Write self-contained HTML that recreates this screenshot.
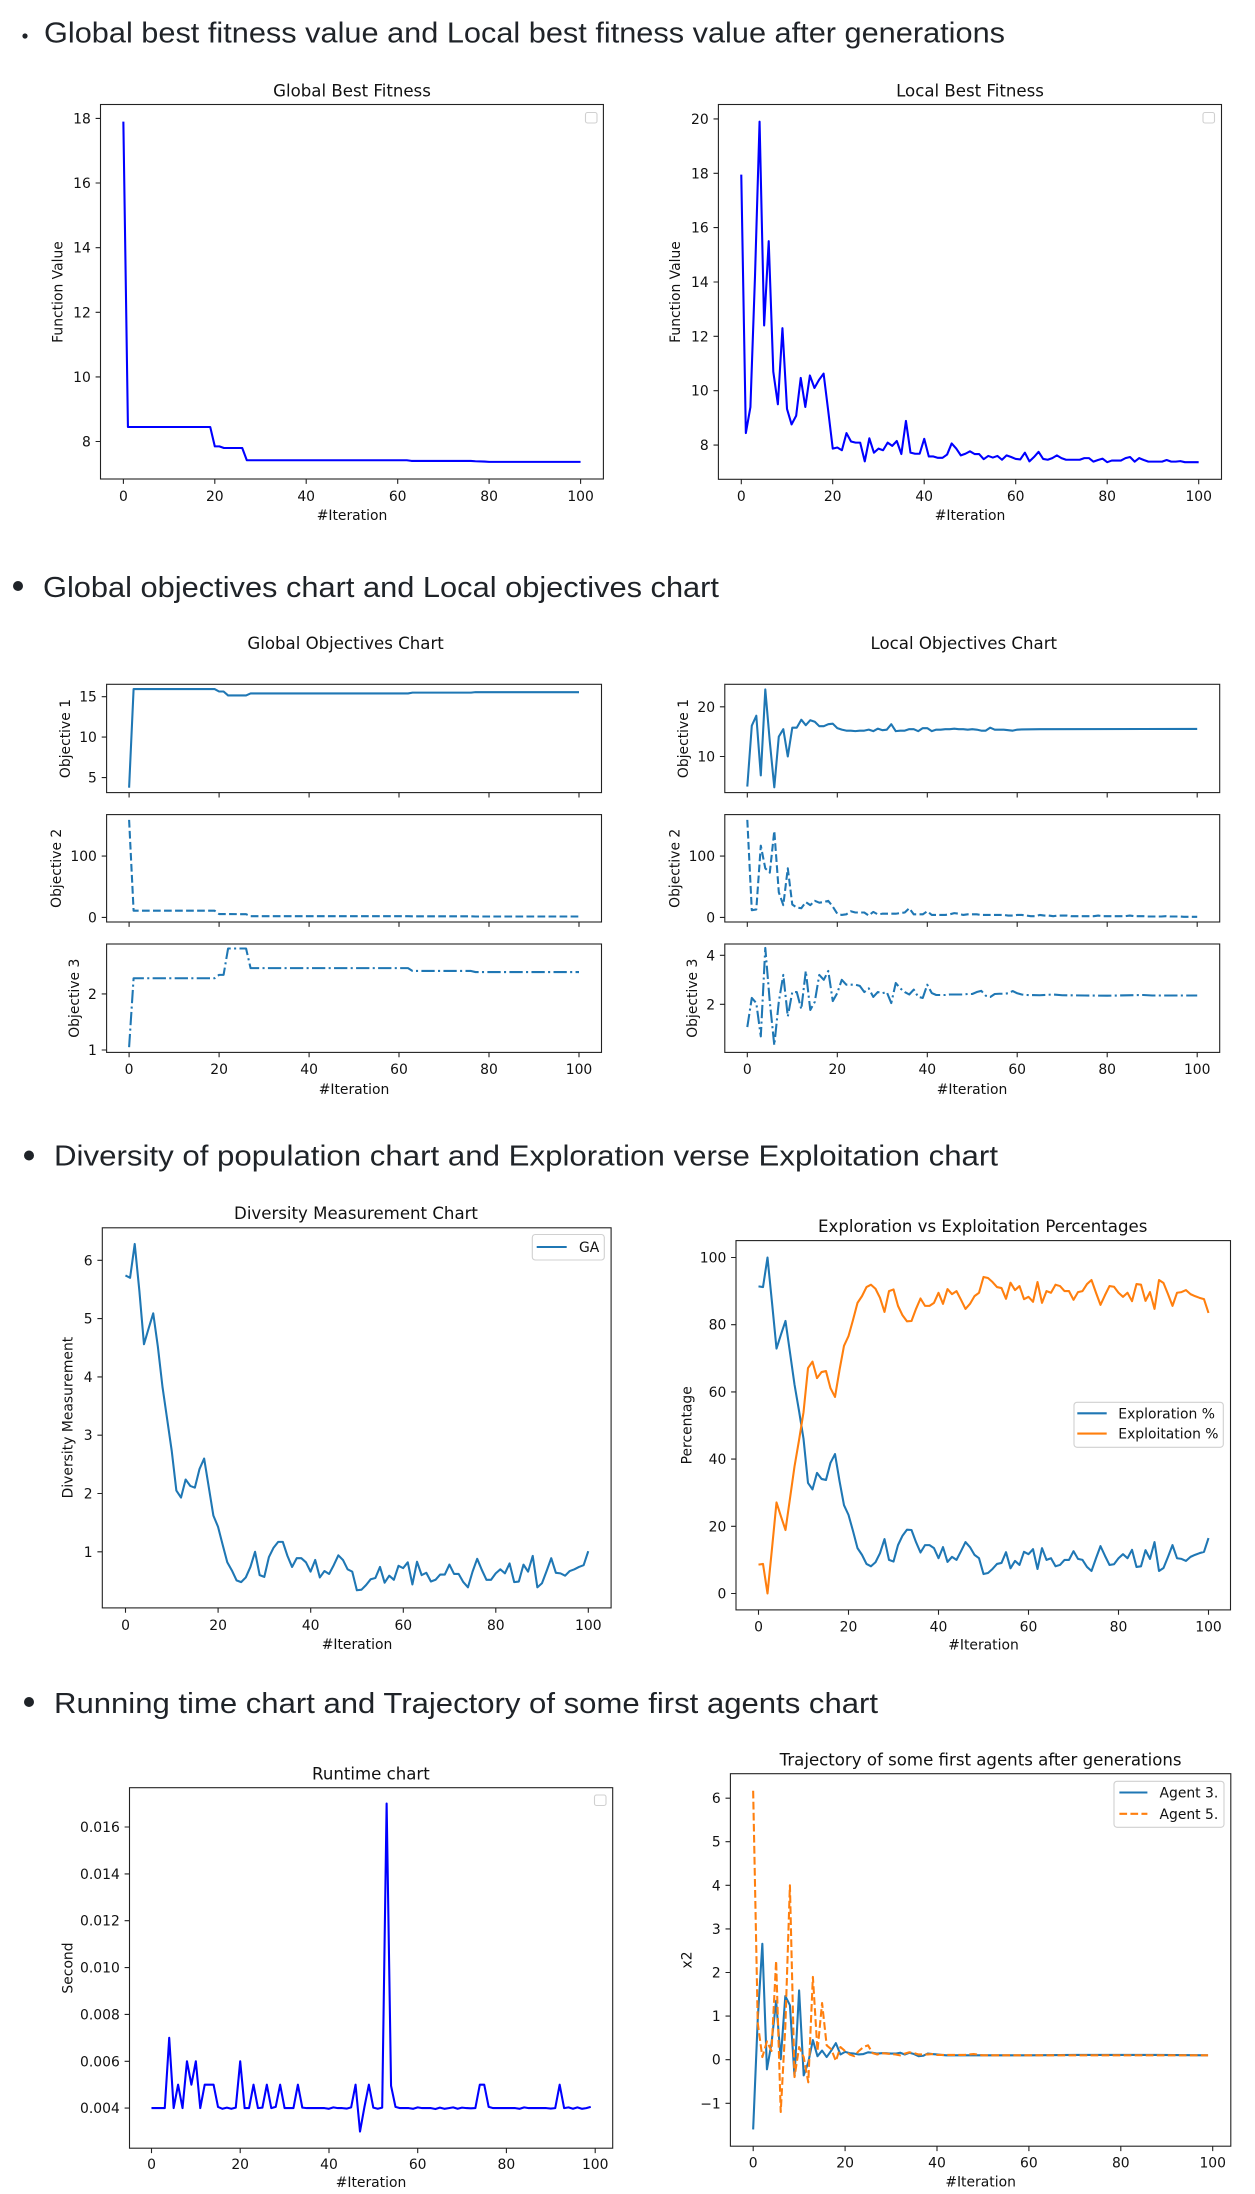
<!DOCTYPE html>
<html>
<head>
<meta charset="utf-8">
<style>
html,body{margin:0;padding:0;background:#fff;}
svg{display:block;}
.h{font-family:"Liberation Sans",sans-serif;font-size:29px;fill:#1f2328;}
.t{font-family:"DejaVu Sans",sans-serif;font-size:16.6px;fill:#111;text-anchor:middle;}
.k{font-family:"DejaVu Sans",sans-serif;font-size:13.9px;fill:#111;}
.m{text-anchor:middle;}
.e{text-anchor:end;}
.ax{fill:none;stroke:#222;stroke-width:1.1;}
.tk{fill:none;stroke:#222;stroke-width:1.1;}
.ln{fill:none;stroke-width:2.08;stroke-linejoin:round;}
.lg{fill:#fff;fill-opacity:0.8;stroke:#d0d0d0;stroke-width:1.1;}
</style>
</head>
<body>
<svg width="1255" height="2194" viewBox="0 0 1255 2194" xmlns="http://www.w3.org/2000/svg">
<rect x="0" y="0" width="1255" height="2194" fill="#fff"/>

<!-- ============ Headings ============ -->
<circle cx="25" cy="36" r="2.6" fill="#1f2328"/>
<text class="h" x="44" y="42.5" textLength="961" lengthAdjust="spacingAndGlyphs">Global best fitness value and Local best fitness value after generations</text>

<circle cx="18" cy="586" r="5" fill="#1f2328"/>
<text class="h" x="43" y="597" textLength="676" lengthAdjust="spacingAndGlyphs">Global objectives chart and Local objectives chart</text>

<circle cx="29" cy="1155.5" r="5" fill="#1f2328"/>
<text class="h" x="54" y="1165.5" textLength="944" lengthAdjust="spacingAndGlyphs">Diversity of population chart and Exploration verse Exploitation chart</text>

<circle cx="29" cy="1702" r="5" fill="#1f2328"/>
<text class="h" x="54" y="1713" textLength="824" lengthAdjust="spacingAndGlyphs">Running time chart and Trajectory of some first agents chart</text>

<!-- ============ Chart 1: Global Best Fitness ============ -->
<polyline class="ln" stroke="#0000ff" vector-effect="non-scaling-stroke" transform="matrix(4.572 0 0 -32.31 123.36 700)"
 points="0,17.9 1,8.45 19,8.45 20,7.85 21,7.85 22,7.8 26,7.8 27,7.42 62,7.42 63,7.40 76,7.40 77,7.39 79,7.38 80,7.37 100,7.37"/>
<rect class="ax" x="100.5" y="104.5" width="502.9" height="374.5"/>
<path class="tk" d="M123.4,479v4.9M214.8,479v4.9M306.2,479v4.9M397.7,479v4.9M489.1,479v4.9M580.6,479v4.9
M100.5,441.5h-4.9M100.5,376.9h-4.9M100.5,312.3h-4.9M100.5,247.7h-4.9M100.5,183h-4.9M100.5,118.4h-4.9"/>
<g class="k m">
<text x="123.4" y="501">0</text><text x="214.8" y="501">20</text><text x="306.2" y="501">40</text><text x="397.7" y="501">60</text><text x="489.1" y="501">80</text><text x="580.6" y="501">100</text>
</g>
<g class="k e">
<text x="90.8" y="446.5">8</text><text x="90.8" y="381.9">10</text><text x="90.8" y="317.3">12</text><text x="90.8" y="252.7">14</text><text x="90.8" y="188">16</text><text x="90.8" y="123.4">18</text>
</g>
<text class="t" x="352" y="96.5">Global Best Fitness</text>
<text class="k m" x="352" y="520">#Iteration</text>
<text class="k m" transform="translate(62.4,292) rotate(-90)">Function Value</text>
<rect class="lg" x="585.5" y="112.5" width="11.5" height="10.5" rx="2"/>

<!-- ============ Chart 2: Local Best Fitness ============ -->
<polyline class="ln" stroke="#0000ff" vector-effect="non-scaling-stroke" transform="matrix(4.574 0 0 -27.18 741.27 662.5)"
 points="0,17.95 1,8.44 2,9.4 3,14.2 4,19.9 5,12.4 6,15.5 7,10.7 8,9.5 9,12.3 10,9.33 11,8.76 12,9.08 13,10.47 14,9.4 15,10.56 16,10.1 17,10.4 18,10.63 19,9.27 20,7.87 21,7.91 22,7.81 23,8.44 24,8.13 25,8.09 26,8.09 27,7.4 28,8.25 29,7.72 30,7.87 31,7.81 32,8.09 33,7.97 34,8.15 35,7.67 36,8.89 37,7.72 38,7.68 39,7.68 40,8.23 41,7.58 42,7.58 43,7.53 44,7.53 45,7.65 46,8.06 47,7.87 48,7.62 49,7.68 50,7.77 51,7.67 52,7.67 53,7.48 54,7.6 55,7.54 56,7.6 57,7.46 58,7.62 59,7.56 60,7.49 61,7.47 62,7.72 63,7.4 64,7.56 65,7.75 66,7.49 67,7.46 68,7.52 69,7.62 70,7.52 71,7.46 72,7.46 73,7.46 74,7.46 75,7.52 76,7.52 77,7.39 78,7.45 79,7.5 80,7.37 81,7.43 82,7.43 83,7.43 84,7.52 85,7.56 86,7.39 87,7.52 88,7.45 89,7.39 90,7.39 91,7.39 92,7.39 93,7.45 94,7.39 95,7.39 96,7.41 97,7.37 98,7.37 99,7.37 100,7.37"/>
<rect class="ax" x="718.4" y="104.5" width="503.1" height="374.8"/>
<path class="tk" d="M741.3,479.3v4.9M832.7,479.3v4.9M924.2,479.3v4.9M1015.7,479.3v4.9M1107.2,479.3v4.9M1198.7,479.3v4.9
M718.4,445.1h-4.9M718.4,390.7h-4.9M718.4,336.3h-4.9M718.4,282h-4.9M718.4,227.6h-4.9M718.4,173.3h-4.9M718.4,118.9h-4.9"/>
<g class="k m">
<text x="741.3" y="501">0</text><text x="832.7" y="501">20</text><text x="924.2" y="501">40</text><text x="1015.7" y="501">60</text><text x="1107.2" y="501">80</text><text x="1198.7" y="501">100</text>
</g>
<g class="k e">
<text x="708.7" y="450.1">8</text><text x="708.7" y="395.7">10</text><text x="708.7" y="341.3">12</text><text x="708.7" y="287">14</text><text x="708.7" y="232.6">16</text><text x="708.7" y="178.3">18</text><text x="708.7" y="123.9">20</text>
</g>
<text class="t" x="970" y="96.5">Local Best Fitness</text>
<text class="k m" x="970" y="520">#Iteration</text>
<text class="k m" transform="translate(680.2,292) rotate(-90)">Function Value</text>
<rect class="lg" x="1203" y="112.5" width="11.5" height="10.5" rx="2"/>

<!-- ============ Chart A: Global Objectives ============ -->
<text class="t" x="345.6" y="649">Global Objectives Chart</text>
<polyline class="ln" stroke="#1f77b4" vector-effect="non-scaling-stroke" transform="matrix(4.499 0 0 -8.088 129.1 818)"
 points="0,3.75 1,15.94 19,15.94 20,15.64 21,15.64 22,15.15 26,15.15 27,15.4 62,15.4 63,15.5 76,15.5 77,15.56 100,15.56"/>
<polyline class="ln" stroke="#1f77b4" stroke-dasharray="7.7 3.33" vector-effect="non-scaling-stroke" transform="matrix(4.499 0 0 -0.6134 129.1 917.4)"
 points="0,159 1,11 19,11 20,5.5 26,5.2 27,2 62,2 63,1.8 76,1.8 77,1.5 100,1.5"/>
<polyline class="ln" stroke="#1f77b4" stroke-dasharray="13.3 3.33 2.08 3.33" vector-effect="non-scaling-stroke" transform="matrix(4.499 0 0 -56.08 129.1 1106.1)"
 points="0,1.05 1,2.28 19,2.28 20,2.34 21,2.34 22,2.81 26,2.81 27,2.46 62,2.46 63,2.41 76,2.41 77,2.39 100,2.39"/>
<rect class="ax" x="106.6" y="684.3" width="494.9" height="108.3"/>
<rect class="ax" x="106.6" y="814.6" width="494.9" height="107.4"/>
<rect class="ax" x="106.6" y="944" width="494.9" height="108.4"/>
<path class="tk" d="M129.1,792.6v4.9M219.1,792.6v4.9M309.1,792.6v4.9M399,792.6v4.9M489,792.6v4.9M579,792.6v4.9
M129.1,922v4.9M219.1,922v4.9M309.1,922v4.9M399,922v4.9M489,922v4.9M579,922v4.9
M129.1,1052.4v4.9M219.1,1052.4v4.9M309.1,1052.4v4.9M399,1052.4v4.9M489,1052.4v4.9M579,1052.4v4.9
M106.6,777.6h-4.9M106.6,737.1h-4.9M106.6,696.7h-4.9M106.6,917.4h-4.9M106.6,856.1h-4.9M106.6,1050h-4.9M106.6,993.9h-4.9"/>
<g class="k e">
<text x="96.9" y="782.6">5</text><text x="96.9" y="742.1">10</text><text x="96.9" y="701.7">15</text>
<text x="96.9" y="922.4">0</text><text x="96.9" y="861.1">100</text>
<text x="96.9" y="1055">1</text><text x="96.9" y="998.9">2</text>
</g>
<g class="k m">
<text x="129.1" y="1074">0</text><text x="219.1" y="1074">20</text><text x="309.1" y="1074">40</text><text x="399" y="1074">60</text><text x="489" y="1074">80</text><text x="579" y="1074">100</text>
</g>
<text class="k m" x="354" y="1094">#Iteration</text>
<text class="k m" transform="translate(70,738.5) rotate(-90)">Objective 1</text>
<text class="k m" transform="translate(61,868.3) rotate(-90)">Objective 2</text>
<text class="k m" transform="translate(79,998.2) rotate(-90)">Objective 3</text>

<!-- ============ Chart B: Local Objectives ============ -->
<text class="t" x="963.8" y="649">Local Objectives Chart</text>
<polyline class="ln" stroke="#1f77b4" vector-effect="non-scaling-stroke" transform="matrix(4.499 0 0 -4.97 747.3 806.2)"
 points="0,3.95 1,16.2 2,18.2 3,6.2 4,23.5 5,13 6,3.8 7,14 8,15.5 9,10 10,15.8 11,15.8 12,17.4 13,16.3 14,17.3 15,17 16,16.1 17,16.1 18,16.5 19,16.6 20,15.7 21,15.4 22,15.2 23,15.2 24,15.1 25,15.2 26,15.2 27,15.4 28,15.1 29,15.6 30,15.3 31,15.4 32,16.5 33,15.1 34,15.2 35,15.2 36,15.5 37,15.5 38,15.1 39,15.7 40,15.7 41,15.1 42,15.4 43,15.4 44,15.5 45,15.5 46,15.6 47,15.5 48,15.5 49,15.4 50,15.5 51,15.4 52,15.2 53,15.2 54,15.8 55,15.4 56,15.4 57,15.4 58,15.3 59,15.2 60,15.4 61,15.45 65,15.5 100,15.55"/>
<polyline class="ln" stroke="#1f77b4" stroke-dasharray="7.7 3.33" vector-effect="non-scaling-stroke" transform="matrix(4.499 0 0 -0.6134 747.3 917.4)"
 points="0,159 1,11.7 2,13 3,117 4,80 5,73 6,141 7,41 8,20 9,80 10,21 11,16 12,15 13,25 14,20 15,27 16,24 17,25 18,27 19,17.5 20,6 21,4 22,5 23,10 24,8 25,8 26,8 27,3 28,9 29,5 30,6 31,6 32,6 33,6 34,7 35,8 36,15 37,5 38,5 39,5 40,10 41,4 42,4 43,4 44,4 45,5 46,7 47,6 48,4 49,5 50,5 51,5 52,4 53,4 54,4 55,4 56,4 57,4 58,3 59,3 60,4 61,4 62,3 63,2 64,2 65,4 66,3 67,3 68,2 69,3 70,3 71,3 72,2 73,2 74,2 75,2 76,2 77,2 78,3 79,2 80,2 81,2 82,2 83,2 84,2 85,3 86,2 87,2 88,2 89,1.5 90,1.5 91,1.5 92,1.5 93,2 94,1.5 95,1.5 96,1.5 97,1 98,1 99,1 100,1"/>
<polyline class="ln" stroke="#1f77b4" stroke-dasharray="13.3 3.33 2.08 3.33" vector-effect="non-scaling-stroke" transform="matrix(4.499 0 0 -24.5 747.3 1053.3)"
 points="0,1.07 1,2.26 2,2.05 3,0.69 4,4.3 5,2.1 6,0.33 7,2.1 8,3.2 9,1.5 10,2.5 11,2.5 12,1.8 13,3.36 14,1.77 15,2.1 16,3.2 17,3.0 18,3.36 19,2.13 20,2.46 21,3.0 22,2.8 23,2.8 24,2.8 25,2.75 26,2.5 27,2.65 28,2.3 29,2.5 30,2.45 31,2.5 32,2.05 33,2.87 34,2.65 35,2.5 36,2.4 37,2.6 38,2.3 39,2.26 40,2.8 41,2.46 42,2.38 43,2.38 44,2.38 45,2.4 46,2.4 47,2.4 48,2.4 49,2.42 50,2.42 51,2.5 52,2.55 53,2.35 54,2.3 55,2.42 56,2.43 57,2.43 58,2.45 59,2.54 60,2.45 61,2.4 62,2.38 65,2.37 68,2.4 70,2.37 75,2.36 80,2.35 88,2.38 90,2.36 100,2.36"/>
<rect class="ax" x="724.8" y="684.3" width="494.9" height="108.3"/>
<rect class="ax" x="724.8" y="814.6" width="494.9" height="107.4"/>
<rect class="ax" x="724.8" y="944" width="494.9" height="108.4"/>
<path class="tk" d="M747.3,792.6v4.9M837.3,792.6v4.9M927.3,792.6v4.9M1017.2,792.6v4.9M1107.2,792.6v4.9M1197.2,792.6v4.9
M747.3,922v4.9M837.3,922v4.9M927.3,922v4.9M1017.2,922v4.9M1107.2,922v4.9M1197.2,922v4.9
M747.3,1052.4v4.9M837.3,1052.4v4.9M927.3,1052.4v4.9M1017.2,1052.4v4.9M1107.2,1052.4v4.9M1197.2,1052.4v4.9
M724.8,756.5h-4.9M724.8,706.8h-4.9M724.8,917.4h-4.9M724.8,856.1h-4.9M724.8,1004.3h-4.9M724.8,955.3h-4.9"/>
<g class="k e">
<text x="715.1" y="761.5">10</text><text x="715.1" y="711.8">20</text>
<text x="715.1" y="922.4">0</text><text x="715.1" y="861.1">100</text>
<text x="715.1" y="1009.3">2</text><text x="715.1" y="960.3">4</text>
</g>
<g class="k m">
<text x="747.3" y="1074">0</text><text x="837.3" y="1074">20</text><text x="927.3" y="1074">40</text><text x="1017.2" y="1074">60</text><text x="1107.2" y="1074">80</text><text x="1197.2" y="1074">100</text>
</g>
<text class="k m" x="972" y="1094">#Iteration</text>
<text class="k m" transform="translate(688,738.5) rotate(-90)">Objective 1</text>
<text class="k m" transform="translate(679.3,868.3) rotate(-90)">Objective 2</text>
<text class="k m" transform="translate(697,998.2) rotate(-90)">Objective 3</text>

<!-- ============ Diversity ============ -->
<text class="t" x="356" y="1219">Diversity Measurement Chart</text>
<polyline class="ln" stroke="#1f77b4" vector-effect="non-scaling-stroke" transform="matrix(4.628 0 0 -58.3 125.46 1610.1)"
 points="0,5.74 1,5.70 2,6.28 3,5.48 4,4.56 5,4.83 6,5.09 7,4.52 8,3.83 9,3.28 10,2.73 11,2.05 12,1.93 13,2.24 14,2.13 15,2.1 16,2.42 17,2.6 18,2.11 19,1.62 20,1.43 21,1.12 22,0.82 23,0.68 24,0.51 25,0.48 26,0.56 27,0.74 28,1.0 29,0.6 30,0.57 31,0.91 32,1.07 33,1.17 34,1.17 35,0.93 36,0.74 37,0.89 38,0.89 39,0.82 40,0.66 41,0.86 42,0.56 43,0.67 44,0.62 45,0.77 46,0.94 47,0.86 48,0.7 49,0.66 50,0.34 51,0.35 52,0.43 53,0.53 54,0.55 55,0.74 56,0.47 57,0.59 58,0.52 59,0.76 60,0.72 61,0.82 62,0.44 63,0.83 64,0.6 65,0.64 66,0.49 67,0.52 68,0.61 69,0.61 70,0.78 71,0.62 72,0.62 73,0.48 74,0.39 75,0.66 76,0.88 77,0.69 78,0.52 79,0.52 80,0.63 81,0.7 82,0.63 83,0.8 84,0.48 85,0.49 86,0.78 87,0.66 88,0.93 89,0.39 90,0.46 91,0.67 92,0.89 93,0.64 94,0.63 95,0.59 96,0.67 97,0.7 98,0.74 99,0.77 100,1.01"/>
<rect class="ax" x="102.3" y="1227.8" width="508.8" height="380.1"/>
<path class="tk" d="M125.5,1607.9v4.9M218.1,1607.9v4.9M310.7,1607.9v4.9M403.3,1607.9v4.9M495.8,1607.9v4.9M588.3,1607.9v4.9
M102.3,1551.8h-4.9M102.3,1493.5h-4.9M102.3,1435.2h-4.9M102.3,1376.9h-4.9M102.3,1318.6h-4.9M102.3,1260.3h-4.9"/>
<g class="k m">
<text x="125.5" y="1630">0</text><text x="218.1" y="1630">20</text><text x="310.7" y="1630">40</text><text x="403.3" y="1630">60</text><text x="495.8" y="1630">80</text><text x="588.3" y="1630">100</text>
</g>
<g class="k e">
<text x="92.6" y="1556.8">1</text><text x="92.6" y="1498.5">2</text><text x="92.6" y="1440.2">3</text><text x="92.6" y="1381.9">4</text><text x="92.6" y="1323.6">5</text><text x="92.6" y="1265.3">6</text>
</g>
<text class="k m" x="357" y="1649">#Iteration</text>
<text class="k m" transform="translate(72.4,1417.6) rotate(-90)">Diversity Measurement</text>
<rect class="lg" x="532.3" y="1234.5" width="72" height="25.5" rx="3"/>
<line x1="536.7" y1="1247" x2="566.7" y2="1247" stroke="#1f77b4" stroke-width="2.08"/>
<text class="k" x="579" y="1252">GA</text>

<!-- ============ Exploration vs Exploitation ============ -->
<text class="t" x="982.7" y="1232">Exploration vs Exploitation Percentages</text>
<polyline class="ln" stroke="#1f77b4" vector-effect="non-scaling-stroke" transform="matrix(4.5 0 0 -3.36 758.5 1593.5)"
 points="0,91.4 1,91.2 2,100 3,86.6 4,72.9 5,77.1 6,81.1 7,71.7 8,62.2 9,54.4 10,46.1 11,32.9 12,31 13,35.9 14,34.1 15,33.8 16,38.9 17,41.5 18,33.5 19,26.3 20,23.4 21,18.6 22,13.5 23,11.5 24,8.8 25,8.1 26,9.3 27,12 28,16.2 29,10 30,9.5 31,14.4 32,17.2 33,19 34,18.9 35,15.3 36,12.2 37,14.4 38,14.4 39,13.5 40,10.5 41,13.8 42,9.4 43,10.9 44,10 45,12.6 46,15.3 47,13.8 48,11.5 49,10.5 50,5.8 51,6.1 52,7.3 53,8.8 54,9.1 55,12.3 56,7.5 57,9.7 58,8.5 59,12.4 60,11.7 61,13.2 62,7.3 63,13.5 64,10 65,10.5 66,8.1 67,8.5 68,10 69,10 70,12.6 71,10.3 72,10 73,7.9 74,6.7 75,10.5 76,14.1 77,11.2 78,8.5 79,8.7 80,10.5 81,11.7 82,10.5 83,13 84,7.9 85,8.1 86,12.9 87,10.3 88,15.3 89,6.7 90,7.6 91,10.9 92,14.4 93,10.5 94,10.3 95,9.7 96,10.9 97,11.5 98,12 99,12.4 100,16.5"/>
<polyline class="ln" stroke="#ff7f0e" vector-effect="non-scaling-stroke" transform="matrix(4.5 0 0 3.36 758.5 1257.5)"
 points="0,91.4 1,91.2 2,100 3,86.6 4,72.9 5,77.1 6,81.1 7,71.7 8,62.2 9,54.4 10,46.1 11,32.9 12,31 13,35.9 14,34.1 15,33.8 16,38.9 17,41.5 18,33.5 19,26.3 20,23.4 21,18.6 22,13.5 23,11.5 24,8.8 25,8.1 26,9.3 27,12 28,16.2 29,10 30,9.5 31,14.4 32,17.2 33,19 34,18.9 35,15.3 36,12.2 37,14.4 38,14.4 39,13.5 40,10.5 41,13.8 42,9.4 43,10.9 44,10 45,12.6 46,15.3 47,13.8 48,11.5 49,10.5 50,5.8 51,6.1 52,7.3 53,8.8 54,9.1 55,12.3 56,7.5 57,9.7 58,8.5 59,12.4 60,11.7 61,13.2 62,7.3 63,13.5 64,10 65,10.5 66,8.1 67,8.5 68,10 69,10 70,12.6 71,10.3 72,10 73,7.9 74,6.7 75,10.5 76,14.1 77,11.2 78,8.5 79,8.7 80,10.5 81,11.7 82,10.5 83,13 84,7.9 85,8.1 86,12.9 87,10.3 88,15.3 89,6.7 90,7.6 91,10.9 92,14.4 93,10.5 94,10.3 95,9.7 96,10.9 97,11.5 98,12 99,12.4 100,16.5"/>
<rect class="ax" x="736" y="1240.6" width="494.5" height="369.3"/>
<path class="tk" d="M758.5,1609.9v4.9M848.5,1609.9v4.9M938.5,1609.9v4.9M1028.5,1609.9v4.9M1118.5,1609.9v4.9M1208.5,1609.9v4.9
M736,1593.5h-4.9M736,1526.3h-4.9M736,1459.1h-4.9M736,1391.9h-4.9M736,1324.7h-4.9M736,1257.5h-4.9"/>
<g class="k m">
<text x="758.5" y="1631.3">0</text><text x="848.5" y="1631.3">20</text><text x="938.5" y="1631.3">40</text><text x="1028.5" y="1631.3">60</text><text x="1118.5" y="1631.3">80</text><text x="1208.5" y="1631.3">100</text>
</g>
<g class="k e">
<text x="726.3" y="1598.5">0</text><text x="726.3" y="1531.3">20</text><text x="726.3" y="1464.1">40</text><text x="726.3" y="1396.9">60</text><text x="726.3" y="1329.7">80</text><text x="726.3" y="1262.5">100</text>
</g>
<text class="k m" x="983.5" y="1649.4">#Iteration</text>
<text class="k m" transform="translate(691.3,1425.3) rotate(-90)">Percentage</text>
<rect class="lg" x="1074" y="1402.3" width="149.3" height="45" rx="3"/>
<line x1="1077.3" y1="1413.3" x2="1106.7" y2="1413.3" stroke="#1f77b4" stroke-width="2.08"/>
<line x1="1077.3" y1="1433.6" x2="1106.7" y2="1433.6" stroke="#ff7f0e" stroke-width="2.08"/>
<text class="k" x="1118.3" y="1418.3">Exploration %</text>
<text class="k" x="1118.3" y="1438.6">Exploitation %</text>

<!-- ============ Runtime ============ -->
<text class="t" x="370.9" y="1779.7">Runtime chart</text>
<polyline class="ln" stroke="#0000ff" vector-effect="non-scaling-stroke" transform="matrix(4.437 0 0 -23.425 151.46 2201.8)"
 points="0,4 1,4 2,4 3,4 4,7 5,4 6,5 7,4 8,6 9,5 10,6 11,4 12,5 13,5 14,5 15,4.05 16,3.97 17,4.02 18,3.97 19,4.02 20,6 21,4 22,4 23,5 24,4 25,4.02 26,5 27,4 28,4.05 29,5 30,4 31,4 32,4 33,5 34,4.02 35,4 36,4 37,4 38,4 39,4 40,3.97 41,4.03 42,4 43,4 44,3.98 45,4.03 46,5 47,3 48,4.05 49,5 50,4.02 51,3.97 52,4.02 53,17 54,4.95 55,4.05 56,4 57,4 58,4 59,3.97 60,4.03 61,4 62,4 63,4 64,3.96 65,4.02 66,3.97 67,4 68,4.03 69,3.97 70,4.02 71,4 72,3.99 73,4 74,5 75,5 76,4.05 77,4 78,4 79,4 80,4 81,4 82,4 83,3.97 84,4.03 85,4 86,4 87,4 88,4 89,4 90,3.98 91,4 92,5 93,4 94,4.03 95,3.97 96,4.03 97,3.97 98,4 99,4.05"/>
<rect class="ax" x="129.5" y="1787.7" width="483.2" height="360.5"/>
<path class="tk" d="M151.5,2148.2v4.9M240.2,2148.2v4.9M329,2148.2v4.9M417.7,2148.2v4.9M506.4,2148.2v4.9M595.2,2148.2v4.9
M129.5,2108.1h-4.9M129.5,2061.3h-4.9M129.5,2014.4h-4.9M129.5,1967.6h-4.9M129.5,1920.7h-4.9M129.5,1873.9h-4.9M129.5,1827h-4.9"/>
<g class="k m">
<text x="151.5" y="2169">0</text><text x="240.2" y="2169">20</text><text x="329" y="2169">40</text><text x="417.7" y="2169">60</text><text x="506.4" y="2169">80</text><text x="595.2" y="2169">100</text>
</g>
<g class="k e">
<text x="119.8" y="2113.1">0.004</text><text x="119.8" y="2066.3">0.006</text><text x="119.8" y="2019.4">0.008</text><text x="119.8" y="1972.6">0.010</text><text x="119.8" y="1925.7">0.012</text><text x="119.8" y="1878.9">0.014</text><text x="119.8" y="1832">0.016</text>
</g>
<text class="k m" x="371" y="2187">#Iteration</text>
<text class="k m" transform="translate(72.4,1968) rotate(-90)">Second</text>
<rect class="lg" x="594.5" y="1795" width="11.5" height="10.5" rx="2"/>

<!-- ============ Trajectory ============ -->
<text class="t" x="980.6" y="1765.3">Trajectory of some first agents after generations</text>
<polyline class="ln" stroke="#1f77b4" vector-effect="non-scaling-stroke" transform="matrix(4.595 0 0 -43.59 753.15 2059.7)"
 points="0,-1.6 1,0.93 2,2.66 3,-0.22 4,0.38 5,1.35 6,0.01 7,1.46 8,1.25 9,-0.38 10,1.59 11,-0.36 12,-0.06 13,0.45 14,0.08 15,0.21 16,0.06 17,0.21 18,0.38 19,0.12 20,0.18 21,0.15 22,0.14 23,0.12 24,0.13 25,0.17 26,0.16 27,0.14 28,0.15 29,0.15 30,0.14 31,0.14 32,0.16 33,0.12 34,0.16 35,0.13 36,0.08 37,0.09 38,0.14 39,0.13 40,0.12 41,0.11 42,0.1 60,0.1 70,0.11 88,0.11 99,0.1"/>
<polyline class="ln" stroke="#ff7f0e" stroke-dasharray="7.7 3.33" vector-effect="non-scaling-stroke" transform="matrix(4.595 0 0 -43.59 753.15 2059.7)"
 points="0,6.17 1,0.84 2,0.06 3,0.42 4,0.2 5,2.27 6,-1.2 7,0.75 8,4.0 9,-0.4 10,0.29 11,0.06 12,-0.52 13,1.9 14,0.2 15,1.3 16,0.33 17,0.24 18,-0.03 19,0.29 20,0.2 21,0.12 22,0.08 23,0.2 24,0.29 25,0.33 26,0.15 27,0.12 28,0.15 29,0.14 30,0.13 31,0.12 32,0.1 33,0.14 34,0.17 35,0.15 36,0.12 37,0.12 38,0.12 39,0.13 40,0.11 46,0.11 48,0.13 50,0.1 99,0.1"/>
<rect class="ax" x="730.4" y="1773.7" width="500.4" height="372.5"/>
<path class="tk" d="M753.2,2146.2v4.9M845.1,2146.2v4.9M937,2146.2v4.9M1028.9,2146.2v4.9M1120.8,2146.2v4.9M1212.7,2146.2v4.9
M730.4,2103.3h-4.9M730.4,2059.7h-4.9M730.4,2016.1h-4.9M730.4,1972.5h-4.9M730.4,1928.9h-4.9M730.4,1885.3h-4.9M730.4,1841.7h-4.9M730.4,1798.2h-4.9"/>
<g class="k m">
<text x="753.2" y="2167.6">0</text><text x="845.1" y="2167.6">20</text><text x="937" y="2167.6">40</text><text x="1028.9" y="2167.6">60</text><text x="1120.8" y="2167.6">80</text><text x="1212.7" y="2167.6">100</text>
</g>
<g class="k e">
<text x="720.7" y="2108.3">−1</text><text x="720.7" y="2064.7">0</text><text x="720.7" y="2021.1">1</text><text x="720.7" y="1977.5">2</text><text x="720.7" y="1933.9">3</text><text x="720.7" y="1890.3">4</text><text x="720.7" y="1846.7">5</text><text x="720.7" y="1803.2">6</text>
</g>
<text class="k m" x="980.6" y="2186.5">#Iteration</text>
<text class="k m" transform="translate(691.3,1960) rotate(-90)">x2</text>
<rect class="lg" x="1114" y="1781.3" width="110" height="46" rx="3"/>
<line x1="1119.4" y1="1792.5" x2="1147.4" y2="1792.5" stroke="#1f77b4" stroke-width="2.08"/>
<line x1="1119.4" y1="1813.8" x2="1147.4" y2="1813.8" stroke="#ff7f0e" stroke-width="2.08" stroke-dasharray="7.7 3.33"/>
<text class="k" x="1159.5" y="1797.5">Agent 3.</text>
<text class="k" x="1159.5" y="1818.8">Agent 5.</text>

</svg>
</body>
</html>
